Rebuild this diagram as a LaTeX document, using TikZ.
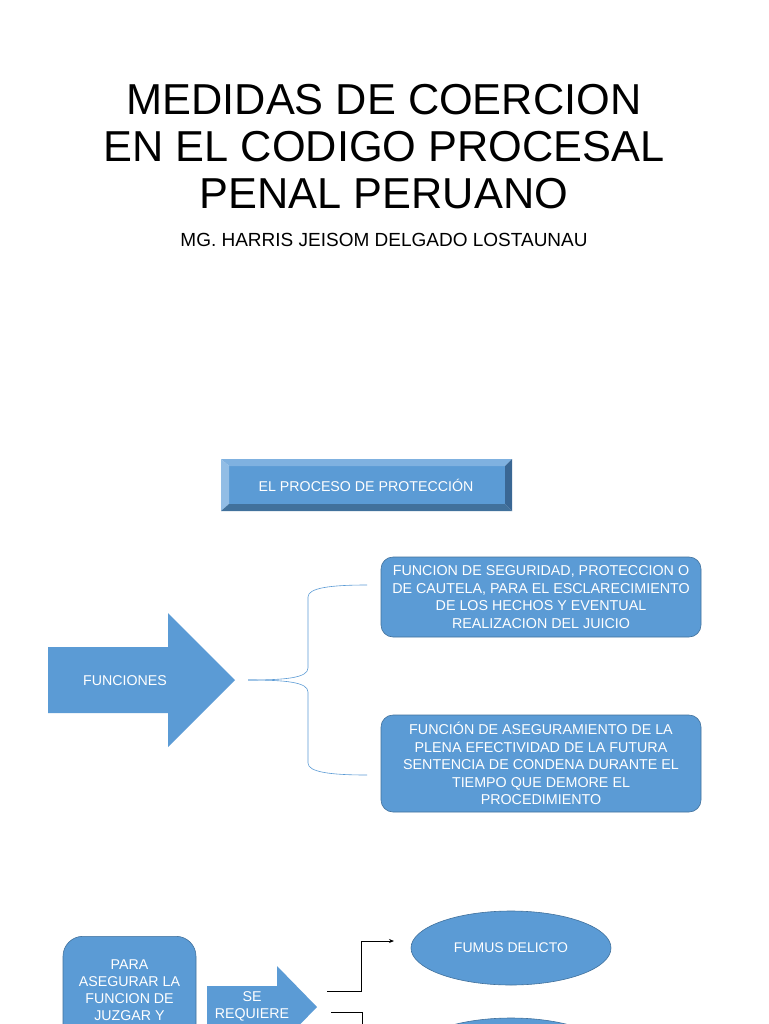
\documentclass[tikz,border=0pt]{standalone}
\usepackage{fontspec}
\setmainfont{Liberation Sans}
\usetikzlibrary{shapes.geometric,arrows.meta}
\definecolor{ob}{HTML}{5B9BD5}
\definecolor{obd}{HTML}{41719C}
\definecolor{obl}{HTML}{7FB1E0}
\definecolor{obdd}{HTML}{3A6794}
\tikzset{
  box/.style={draw=obd, line width=0.6pt, fill=ob, rounded corners=12pt, text=white, align=center, font=\fontsize{14.3}{17.4}\selectfont, inner sep=0pt},
  lbl/.style={text=white, align=center, inner sep=0pt},
  ell/.style={ellipse, draw=obd, line width=0.6pt, fill=ob, text=white, font=\fontsize{14}{17}\selectfont, inner sep=0pt},
  conn/.style={draw=black, line width=1pt},
  brace/.style={draw=ob, line width=0.6pt},
}
\begin{document}
\begin{tikzpicture}[x=1pt,y=-1pt]
\useasboundingbox (0,0) rectangle (768,1024);
\fill[white] (0,0) rectangle (768,1024);
\clip (0,0) rectangle (768,1024);
% title
\node (title) at (384,147) [align=center, font=\fontsize{43.3}{47}\selectfont] {MEDIDAS DE COERCION\\EN EL CODIGO PROCESAL\\PENAL PERUANO};
\node (author) at (384,240) [font=\fontsize{19}{22}\selectfont] {MG. HARRIS JEISOM DELGADO LOSTAUNAU};
% bevel box
\fill[ob] (229,466) rectangle (505,504);
\fill[obl] (221,459) -- (512,459) -- (505,466) -- (229,466) -- cycle;
\fill[obl!85!white] (221,459) -- (229,466) -- (229,504) -- (221,511) -- cycle;
\fill[obd] (221,511) -- (512,511) -- (505,504) -- (229,504) -- cycle;
\fill[obdd] (512,459) -- (512,511) -- (505,504) -- (505,466) -- cycle;
\node (proc) at (366,485) [lbl, font=\fontsize{14.2}{17}\selectfont] {EL PROCESO DE PROTECCIÓN};
% big arrow
\fill[ob] (48,647) -- (168,647) -- (168,613) -- (235,680) -- (168,747) -- (168,713) -- (48,713) -- cycle;
\node (fun) at (125,681) [lbl, font=\fontsize{14.2}{17}\selectfont] {FUNCIONES};
\coordinate (bstart) at (248,680);
% boxes
\node (b1) [box, minimum width=320pt, minimum height=80pt] at (541,597) {FUNCION DE SEGURIDAD, PROTECCION O\\DE CAUTELA, PARA EL ESCLARECIMIENTO\\DE LOS HECHOS Y EVENTUAL\\REALIZACION DEL JUICIO};
\node (b2) [box, minimum width=320pt, minimum height=97pt] at (541,763.5) {FUNCIÓN DE ASEGURAMIENTO DE LA\\PLENA EFECTIVIDAD DE LA FUTURA\\SENTENCIA DE CONDENA DURANTE EL\\TIEMPO QUE DEMORE EL\\PROCEDIMIENTO};
% brace
\coordinate (btop) at (367,585);
\coordinate (bbot) at (367,775);
\draw[brace] (bstart) .. controls (285,680) and (308,678) .. (308,668) -- (308,597) .. controls (308,588) and (330,585) .. (btop);
\draw[brace] (bstart) .. controls (285,680) and (308,682) .. (308,692) -- (308,763) .. controls (308,772) and (330,775) .. (bbot);
% bottom part
\node (para) [box, rounded corners=20pt, minimum width=133pt, minimum height=160pt, anchor=north] at (129.5,936) {};
\node (paratxt) at (129.5,990.5) [lbl, font=\fontsize{14.2}{17}\selectfont] {PARA\\ASEGURAR LA\\FUNCION DE\\JUZGAR Y};
\fill[ob] (207,986) -- (277,986) -- (277,966) -- (317,1007) -- (277,1048) -- (277,1028) -- (207,1028) -- cycle;
\node (req) at (252,1006.5) [lbl, font=\fontsize{14.2}{17}\selectfont] {SE\\REQUIERE};
\node (fumus) [ell, minimum width=200pt, minimum height=74pt] at (511,948) {FUMUS DELICTO};
\node (e2) [ell, minimum width=200pt, minimum height=74pt] at (511,1055) {};
\coordinate (c1) at (327,991);
\coordinate (c2) at (331,1012);
\draw[conn, -{Stealth[length=5pt,width=4pt]}] (c1) -- (361,991) -- (361,941) -- (394,941);
\draw[conn] (c2) -- (362,1012) -- (362,1055) -- (e2.west);
\end{tikzpicture}
\end{document}
